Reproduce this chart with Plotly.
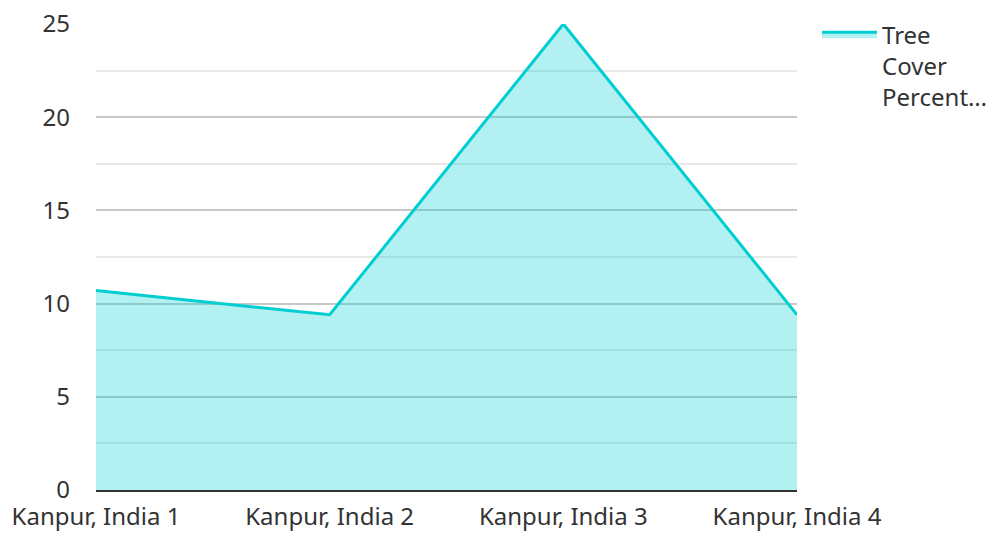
import plotly.graph_objects as go

categories = ["Kanpur, India 1", "Kanpur, India 2", "Kanpur, India 3", "Kanpur, India 4"]
tree_cover = [10.7, 9.4, 25, 9.4]
series_name = "Tree<br>Cover<br>Percent…"
y_ticks = [0, 5, 10, 15, 20, 25]

x_idx = list(range(len(categories)))

fig = go.Figure()
fig.add_trace(go.Scatter(
    x=x_idx, y=tree_cover, name=series_name, mode="lines",
    line=dict(color="#00CED1", width=3),
    fill="tozeroy", fillcolor="rgba(0,206,209,0.3)",
    hoverinfo="y",
))

font = dict(family="Noto Sans", size=24, color="#333333")
fig.update_layout(
    width=992, height=533,
    margin=dict(l=96, r=195, t=24, b=43),
    paper_bgcolor="white", plot_bgcolor="white",
    font=font,
    showlegend=True,
    legend=dict(xref="container", yref="container",
                x=0.8236, y=0.977, xanchor="left", yanchor="top",
                itemwidth=55, font=font, tracegroupgap=0, valign="top"),
    xaxis=dict(range=[0, 3], tickvals=x_idx, ticktext=categories,
               showgrid=False, zeroline=False, showline=True,
               linecolor="#333333", linewidth=2, ticks="",
               ticklabelstandoff=4,
               automargin=False, fixedrange=True),
    yaxis=dict(range=[0, 25], tickvals=y_ticks, showgrid=True,
               gridcolor="#c8c8c8", gridwidth=1.5, zeroline=False,
               ticks="", ticklabelstandoff=25, automargin=False,
               minor=dict(showgrid=True, tick0=0, dtick=2.5,
                          gridcolor="#e8e8e8", gridwidth=1.5),
               fixedrange=True),
)

fig.write_html("out.html", config={"displayModeBar": False},
               post_script="document.body.style.margin='0px';")
